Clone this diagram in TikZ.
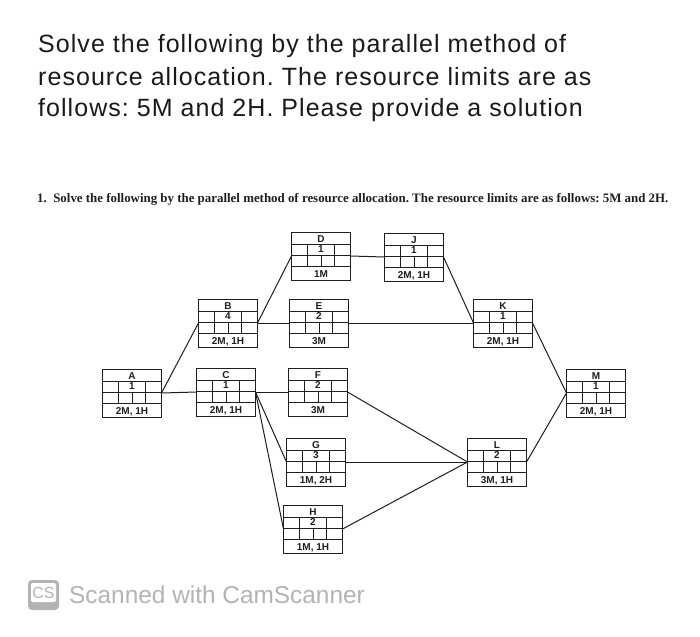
\documentclass[tikz,border=0pt]{standalone}
\usepackage{fontspec}
\setmainfont{Liberation Serif}
\setsansfont{Liberation Sans}
\newfontfamily\titlefont{Liberation Sans}[LetterSpace=4.2]
\usetikzlibrary{calc}
\definecolor{ink}{HTML}{1E1E1E}
\definecolor{title}{HTML}{1A1A1A}
\definecolor{scan}{HTML}{B3B3B3}
\tikzset{
 actbox/.style={draw=ink, line width=1pt, minimum width=59pt, minimum height=48pt, inner sep=0pt, outer sep=0pt},
 cellline/.style={draw=ink, line width=0.85pt},
 lbl/.style={font=\sffamily\bfseries\fontsize{10}{11}\selectfont, text=ink, inner sep=0pt, anchor=base},
 link/.style={draw=ink, line width=1pt},
 titletext/.style={font=\titlefont\fontsize{25}{28}\selectfont, text=title, inner sep=0pt, anchor=base west},
}
\newcommand\act[6]{%
 \node[actbox] (#1) at (#2,#3) {};
 \draw[cellline] ($(#1.north west)+(0,12)$) -- ($(#1.north east)+(0,12)$)
   ($(#1.north west)+(0,23)$) -- ($(#1.north east)+(0,23)$)
   ($(#1.north west)+(0,34)$) -- ($(#1.north east)+(0,34)$)
   ($(#1.north west)+(16,12)$) -- ($(#1.north west)+(16,34)$)
   ($(#1.north west)+(43,12)$) -- ($(#1.north west)+(43,34)$)
   ($(#1.north west)+(29.5,23)$) -- ($(#1.north west)+(29.5,34)$);
 \node[lbl] (#1-name) at ($(#1.north)+(0,10)$) {#4};
 \node[lbl] (#1-dur) at ($(#1.north)+(0,20.5)$) {#5};
 \node[lbl] (#1-res) at ($(#1.north)+(0,45)$) {#6};
}
\frenchspacing
\begin{document}
\begin{tikzpicture}[x=1pt,y=-1pt]
\useasboundingbox[fill=white] (0,0) rectangle (700,636);
% title
\node[titletext] (t1) at (38,53) {Solve the following by the parallel method of};
\node[titletext] (t2) at (38,86) {resource allocation. The resource limits are as};
\node[titletext] (t3) at (38,117) {follows: 5M and 2H. Please provide a solution};
% subtitle
\node[font=\bfseries\fontsize{12.9}{14}\selectfont, text=ink, inner sep=0pt, anchor=base west] (sub) at (37,203)
 {1.\ \ Solve the following by the parallel method of resource allocation. The resource limits are as follows: 5M and 2H.};
% activities
\act{A}{132}{393}{A}{1}{2M, 1H}
\act{B}{228}{323}{B}{4}{2M, 1H}
\act{C}{226}{392}{C}{1}{2M, 1H}
\act{D}{321}{256}{D}{1}{1M}
\act{E}{319}{323}{E}{2}{3M}
\act{F}{318}{392}{F}{2}{3M}
\act{G}{316}{462}{G}{3}{1M, 2H}
\act{H}{313}{529}{H}{2}{1M, 1H}
\act{J}{414}{257}{J}{1}{2M, 1H}
\act{K}{503}{323}{K}{1}{2M, 1H}
\act{L}{497}{462}{L}{2}{3M, 1H}
\act{M}{596}{393}{M}{1}{2M, 1H}
% links
\draw[link] (A.east) -- (B.west);
\draw[link] (A.east) -- (C.west);
\draw[link] (B.east) -- (D.west);
\draw[link] (B.east) -- (E.west);
\draw[link] (D.east) -- (J.west);
\draw[link] (J.east) -- (K.west);
\draw[link] (E.east) -- (K.west);
\draw[link] (K.east) -- (M.west);
\draw[link] (C.east) -- (F.west);
\draw[link] (C.east) -- (G.west);
\draw[link] (C.east) -- (H.west);
\draw[link] (F.east) -- (L.west);
\draw[link] (G.east) -- (L.west);
\draw[link] (H.east) -- (L.west);
\draw[link] (L.east) -- (M.west);
% CamScanner mark
\fill[scan, rounded corners=4pt] (28,580) rectangle (59,610);
\fill[white, rounded corners=2pt] (31,583) rectangle (56,602);
\node[font=\sffamily\fontsize{16}{17}\selectfont, text=scan, inner sep=0pt] (cs) at (43.5,592.5) {CS};
\node[font=\sffamily\fontsize{24.4}{26}\selectfont, text=scan, inner sep=0pt, anchor=base west] (camtext) at (69,603) {Scanned with CamScanner};
\end{tikzpicture}
\end{document}
